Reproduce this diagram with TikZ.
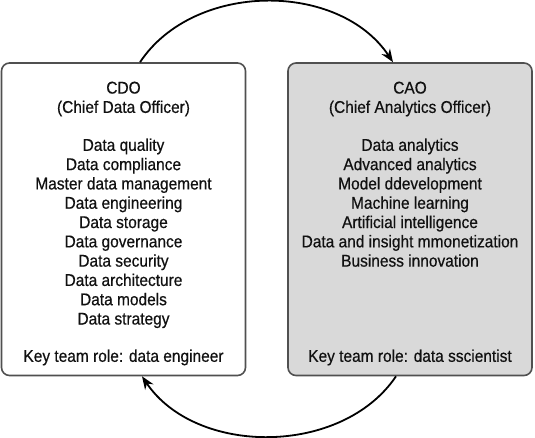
\documentclass[tikz,border=0pt]{standalone}
\usepackage{fontspec}
\setmainfont{Liberation Sans}[FakeStretch=0.91,FakeBold=0.5]
\usetikzlibrary{arrows.meta}
\definecolor{boxline}{HTML}{505050}
\definecolor{boxfill}{HTML}{D9D9D9}
\definecolor{ink}{HTML}{111111}
\begin{document}
\begin{tikzpicture}[x=1pt,y=-1pt,
  box/.style={draw=boxline, line width=1.6pt, rounded corners=8pt, minimum width=244pt, minimum height=312.5pt, inner sep=0pt},
  txt/.style={align=center, inner sep=0pt, anchor=north, text=ink, font=\fontsize{17}{19.3}\selectfont},
  arr/.style={line width=1.8pt, -{Stealth[length=13pt,width=10pt]}}]
\useasboundingbox (0,0) rectangle (535,438);
\node[box, fill=white] (cdo) at (123.5,219.25) {};
\node[box, fill=boxfill] (cao) at (410,219.25) {};
% left texts
\node[txt] (cdotitle) at (123.5,81.5) {CDO\\(Chief Data Officer)};
\node[txt] (cdolist) at (123.5,138.3) {Data quality\\Data compliance\\Master data management\\Data engineering\\Data storage\\Data governance\\Data security\\Data architecture\\Data models\\Data strategy};
\node[txt] (cdorole) at (123.5,349.3) {Key team role: data engineer};
% right texts
\node[txt] (caotitle) at (410,81.5) {CAO\\(Chief Analytics Officer)};
\node[txt] (caolist) at (410,138.3) {Data analytics\\Advanced analytics\\Model ddevelopment\\Machine learning\\Artificial intelligence\\Data and insight mmonetization\\Business innovation};
\node[txt] (caorole) at (410,349.3) {Key team role: data sscientist};
% arcs
\draw[arr] ([xshift=16.5pt]cdo.north) .. controls +(54,-81) and +(-54,-81) .. ([xshift=-17pt]cao.north);
\draw[arr] ([xshift=-14pt]cao.south) .. controls +(-54,80) and +(54,80) .. ([xshift=18.5pt]cdo.south);
\end{tikzpicture}
\end{document}
